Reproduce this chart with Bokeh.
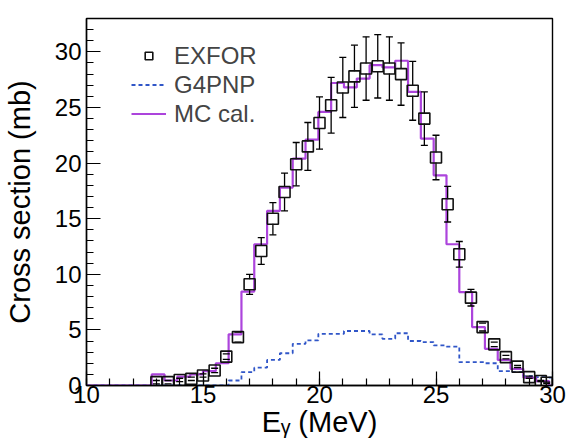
import numpy as np
from bokeh.plotting import figure
from bokeh.models import (ColumnDataSource, SingleIntervalTicker, Legend, LegendItem)
from bokeh.embed import file_html
from bokeh.resources import INLINE

# ---- data ----
exfor_e = [13.0, 13.5, 14.0, 14.5, 15.0, 15.5, 16.0, 16.5, 17.0, 17.5, 18.0, 18.5,
           19.0, 19.5, 20.0, 20.5, 21.0, 21.5, 22.0, 22.5, 23.0, 23.5, 24.0, 24.5,
           25.0, 25.5, 26.0, 26.5, 27.0, 27.5, 28.0, 28.5, 29.0, 29.5, 29.75]
exfor_xs = [0.3, 0.3, 0.5, 0.6, 0.9, 1.35, 2.6, 4.35, 9.1, 12.1, 15.0, 17.4,
            19.9, 21.5, 23.6, 25.2, 26.8, 27.8, 28.5, 28.7, 28.5, 28.0, 26.5, 24.0,
            20.5, 16.3, 11.8, 7.9, 5.25, 3.7, 2.55, 1.7, 0.75, 0.4, 0.25]
exfor_err = [0.15, 0.15, 0.15, 0.15, 0.15, 0.2, 0.25, 0.45, 0.9, 1.2, 1.45, 1.7,
             1.95, 2.15, 2.35, 2.5, 2.7, 2.8, 2.85, 2.85, 2.85, 2.8, 2.65, 2.4,
             2.0, 1.6, 1.15, 0.75, 0.35, 0.2, 0.15, 0.1, 0.1, 0.05, 0.05]

mc_edges = [10.0, 12.8, 13.35, 13.9, 14.45, 15.0, 15.55, 16.1, 16.65, 17.2, 17.75,
            18.3, 18.85, 19.4, 19.95, 20.5, 21.05, 21.6, 22.15, 22.7, 23.25, 23.8,
            24.35, 24.9, 25.45, 26.0, 26.55, 27.1, 27.65, 28.2, 28.75, 29.3, 29.85, 30.0]
mc_vals = [0.0, 1.0, 0.45, 0.8, 1.0, 1.3, 2.0, 4.6, 8.45, 12.7, 15.7, 17.8, 20.4,
           22.1, 24.6, 27.2, 26.8, 27.6, 28.8, 28.6, 29.2, 26.4, 22.2, 18.9, 12.7,
           8.4, 5.25, 3.3, 2.3, 1.5, 0.7, 0.4, 0.0]

g4_edges = [10.0, 16.1, 16.65, 17.2, 17.75, 18.3, 18.85, 19.4, 19.95, 20.5, 21.05,
            21.6, 22.15, 22.7, 23.25, 23.8, 24.35, 24.9, 25.45, 26.0, 26.55, 27.1,
            27.65, 28.2, 28.75, 29.3, 29.85, 30.0]
g4_vals = [0.0, 0.45, 1.2, 1.6, 2.3, 2.9, 3.75, 4.05, 4.65, 4.65, 4.9, 4.9, 4.6,
           4.2, 4.7, 4.0, 3.9, 3.6, 3.5, 2.1, 2.1, 2.0, 1.3, 1.2, 0.85, 0.75, 0.7]

x_ticks_interval = 5
y_ticks_interval = 5
x_title = "E\u1d67 (MeV)"
y_title = "Cross section (mb)"

FONT = "Liberation Sans"
PURPLE = "#ac44dc"
BLUE = "#3056c8"

p = figure(width=567, height=448, x_range=(10, 30), y_range=(0, 33),
           output_backend="svg", toolbar_location=None,
           min_border_left=85, min_border_right=15, min_border_top=18, min_border_bottom=63)
p.background_fill_color = "white"
p.border_fill_color = "white"
p.outline_line_color = "black"
p.outline_line_width = 1.4
p.xgrid.visible = False
p.ygrid.visible = False

for ax, iv in ((p.xaxis, x_ticks_interval), (p.yaxis, y_ticks_interval)):
    ax.ticker = SingleIntervalTicker(interval=iv, num_minor_ticks=5)
    ax.major_tick_in = 14
    ax.major_tick_out = 0
    ax.minor_tick_in = 7
    ax.minor_tick_out = 0
    ax.axis_line_color = "black"
    ax.axis_line_width = 1.4
    ax.major_tick_line_width = 1.2
    ax.minor_tick_line_width = 1.2
    ax.major_label_text_font = FONT
    ax.major_label_text_font_size = "24px"
    ax.major_label_text_color = "black"
    ax.axis_label_text_font = FONT
    ax.axis_label_text_font_size = "29px"
    ax.axis_label_text_font_style = "normal"
    ax.axis_label_text_color = "black"
p.xaxis.major_label_standoff = 0
p.yaxis.major_label_standoff = 5
p.xaxis.axis_label = x_title
p.yaxis.axis_label = y_title
p.xaxis.axis_label_standoff = 0
p.yaxis.axis_label_standoff = 16

# histograms
g4 = p.step(x=g4_edges, y=g4_vals + [g4_vals[-1]], mode="after",
            line_color=BLUE, line_width=1.8, line_dash="4 3")
mc = p.step(x=mc_edges, y=mc_vals + [mc_vals[-1]], mode="after",
            line_color=PURPLE, line_width=2.2)

# error bars with a gap around the marker (ROOT style)
ex = np.array(exfor_e)
ey = np.array(exfor_xs)
ee = np.array(exfor_err)
gap = 5.0 / (385 - 18) * 33  # half marker size in data units
up0 = ey + gap
up1 = np.maximum(ey + ee, up0)
lo0 = ey - gap
lo1 = np.minimum(ey - ee, lo0)
src = ColumnDataSource(dict(x=ex, y=ey, up0=up0, up1=up1, lo0=lo0, lo1=lo1,
                            top=ey + ee, bot=ey - ee))
p.segment(x0="x", y0="up0", x1="x", y1="up1", source=src, line_color="black", line_width=1.3)
p.segment(x0="x", y0="lo0", x1="x", y1="lo1", source=src, line_color="black", line_width=1.3)
p.scatter(x="x", y="top", source=src, marker="dash", size=7, line_color="black", line_width=1.3)
p.scatter(x="x", y="bot", source=src, marker="dash", size=7, line_color="black", line_width=1.3)
sq = p.scatter(x="x", y="y", source=src, marker="square", size=11,
               fill_alpha=0, line_color="#111111", line_width=1.6)

legend = Legend(items=[LegendItem(label="EXFOR", renderers=[sq]),
                       LegendItem(label="G4PNP", renderers=[g4]),
                       LegendItem(label="MC cal.", renderers=[mc])],
                location=(45, 257), glyph_width=35, glyph_height=19, label_height=29,
                label_text_font=FONT, label_text_font_size="24px", label_standoff=8,
                padding=0, margin=0, spacing=0, border_line_alpha=0,
                background_fill_alpha=0)
p.add_layout(legend)

open("out.html", "w").write(file_html(p, INLINE))
